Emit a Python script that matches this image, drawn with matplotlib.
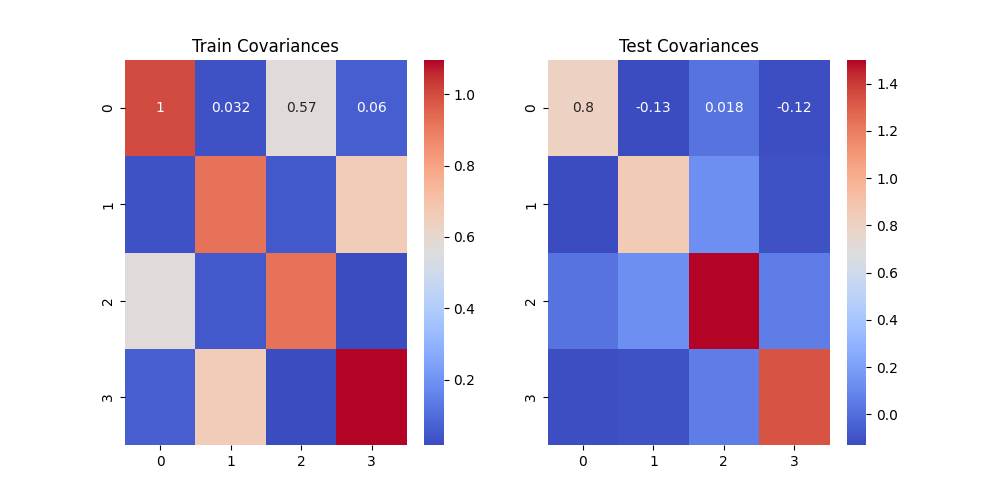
import numpy as np
import matplotlib
matplotlib.use("Agg")
import matplotlib.pyplot as plt
import seaborn as sns

# covariance matrices
train_cov = np.array([
    [1.0, 0.032, 0.57, 0.06],
    [0.032, 0.92, 0.05, 0.66],
    [0.57, 0.05, 0.92, 0.017],
    [0.06, 0.66, 0.017, 1.096],
])
test_cov = np.array([
    [0.8, -0.13, 0.018, -0.12],
    [-0.13, 0.85, 0.13, -0.11],
    [0.018, 0.13, 1.5, 0.06],
    [-0.12, -0.11, 0.06, 1.33],
])
titles = ["Train Covariances", "Test Covariances"]

# only the first row carries numbers in the original
def first_row_labels(m):
    lab = np.full(m.shape, "", dtype=object)
    lab[0] = [format(v, ".2g") for v in m[0]]
    return lab

fig, axes = plt.subplots(1, 2, figsize=(10, 5))
for ax, m, t in zip(axes, [train_cov, test_cov], titles):
    sns.heatmap(m, ax=ax, cmap="coolwarm", annot=first_row_labels(m), fmt="")
    ax.set_title(t)

plt.savefig("out.png", dpi=100)
